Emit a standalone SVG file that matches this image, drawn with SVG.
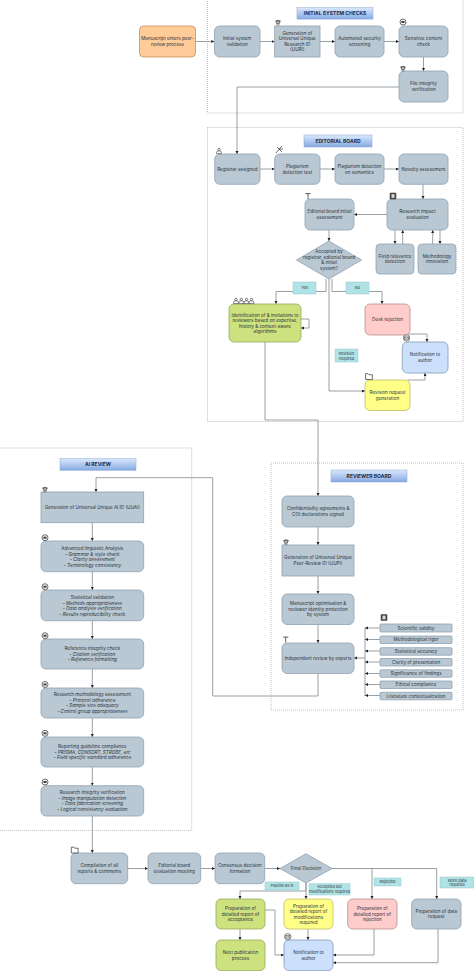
<svg xmlns="http://www.w3.org/2000/svg" width="474" height="971" viewBox="0 0 474 971">
<style>
text{font-family:"Inter","Noto Sans","Liberation Sans",sans-serif;font-size:4.6px;fill:#2b3640;text-anchor:middle}
.i{font-style:italic}
.b{stroke-width:.8}
.g{fill:#bac8d3;stroke:#8fa2b2}
.o{fill:#ffcc99;stroke:#c4905c}
.gr{fill:#cde17f;stroke:#94ab5e}
.p{fill:#ffcccc;stroke:#b98d8d}
.bl{fill:#cce0fb;stroke:#8299b8}
.y{fill:#ffff88;stroke:#bdbd62}
.l{fill:#b0e3e6;stroke:#96c6c9;stroke-width:.5}
.t{fill:url(#tg);stroke:#8aa8d6;stroke-width:.5}
.tt{font-size:5px;font-weight:700;fill:#1d2a44}
.lt{font-size:3.9px}
.dash{fill:none;stroke:#a9adb0;stroke-width:.8;stroke-dasharray:1 1}
.c{fill:none;stroke:#8c959c;stroke-width:.9}
.a{marker-end:url(#ah)}
.ic{fill:none;stroke:#333;stroke-width:.7}
.id{fill:#444;stroke:none}
</style>
<defs>
<linearGradient id="tg" x1="0" y1="0" x2="0" y2="1"><stop offset="0" stop-color="#dae8fc"/><stop offset="1" stop-color="#86a9e2"/></linearGradient>
<marker id="ah" markerUnits="userSpaceOnUse" markerWidth="4" markerHeight="4" refX="3" refY="1.5" orient="auto"><path d="M0 0L3 1.5L0 3z" fill="#222"/></marker>
<symbol id="gear" overflow="visible"><circle r="2.3" fill="#777"/><circle r="1" fill="#ddd"/><path d="M-3 -.9H3M-.9 2V3.5M.9 2V3.5" stroke="#555" stroke-width=".7"/></symbol>
<symbol id="rb" overflow="visible"><circle r="3" fill="#f4f4f4" stroke="#333" stroke-width=".7"/><rect x="-1.6" y="-1" width="3.2" height="2" fill="#444"/></symbol>
<symbol id="pers" overflow="visible"><circle cy="-1.6" r="1.2" fill="#fff" stroke="#333" stroke-width=".6"/><path d="M-2.4 2.6V1.2Q-2.4 -.2 0 -.2Q2.4 -.2 2.4 1.2V2.6z" fill="#fff" stroke="#333" stroke-width=".6"/></symbol>
<symbol id="sq" overflow="visible"><rect x="-3" y="-3" width="6" height="6" rx=".6" fill="#555" stroke="#222" stroke-width=".5"/><rect x="-1.4" y="-1.8" width="2.8" height="3.6" fill="#ddd"/></symbol>
<symbol id="tee" overflow="visible"><path d="M-2.6 -2.4H2.6M0 -2.4V3" stroke="#333" stroke-width=".8" fill="none"/></symbol>
<symbol id="fold" overflow="visible"><path d="M-3.4 -2.8H-.8L0 -1.8H3.4V3H-3.4z" fill="#fff" stroke="#333" stroke-width=".7"/></symbol>
<symbol id="mail" overflow="visible"><circle r="3.2" fill="#fff" stroke="#333" stroke-width=".6"/><path d="M-2 -1.2H2V1.4H-2zM-2 -1.2L0 .4L2 -1.2" fill="#eee" stroke="#333" stroke-width=".5"/></symbol>
</defs>

<g id="frames">
<rect class="dash" x="207.5" y="-3" width="255.5" height="116"/>
<rect class="dash" x="207.5" y="127.5" width="255.5" height="294"/>
<rect class="dash" x="271" y="463" width="192" height="247"/>
<rect class="dash" x="-3" y="448" width="194.7" height="382.5"/>
</g>

<g id="connectors">
<path class="c a" d="M195.7 41.5H214.3"/>
<path class="c a" d="M260 41.5H274.7"/>
<path class="c a" d="M320 41.5H335"/>
<path class="c a" d="M384 41.5H399"/>
<path class="c a" d="M423.5 57V71"/>
<path class="c a" d="M399 87H237V154"/>
<path class="c a" d="M260 169H274.7"/>
<path class="c a" d="M320 169H335"/>
<path class="c a" d="M384 169H399"/>
<path class="c a" d="M423 184.3V199"/>
<path class="c a" d="M387 214.5H354"/>
<path class="c a" d="M395 230V244"/>
<path class="c a" d="M402.7 244V230"/>
<path class="c a" d="M432.7 244V230"/>
<path class="c a" d="M440 230V244"/>
<path class="c a" d="M329 230V241"/>
<path class="c a" d="M326 279V291.5H276V304"/>
<path class="c a" d="M332 279V291.5H382V304"/>
<path class="c a" d="M329 279V391H365"/>
<path class="c a" d="M301 319H309V328H301"/>
<path class="c a" d="M408 334H427V342"/>
<path class="c a" d="M408 380H425V373"/>
<path class="c a" d="M265 342V420H318V496"/>
<path class="c a" d="M318 527V545"/>
<path class="c a" d="M318 576V594"/>
<path class="c a" d="M318 624V643"/>
<path class="c a" d="M318 673V696H212.7V477.7H96V492"/>
<path class="c" d="M365 628V696"/>
<path class="c a" d="M380 628H365"/>
<path class="c a" d="M380 639.5H365"/>
<path class="c a" d="M380 651H365"/>
<path class="c a" d="M380 662H365"/>
<path class="c a" d="M380 673.5H365"/>
<path class="c a" d="M380 684.5H365"/>
<path class="c a" d="M380 695.5H365"/>
<path class="c a" d="M365 658H354"/>
<path class="c a" d="M92.3 522.7V541"/>
<path class="c a" d="M92.3 571.7V590"/>
<path class="c a" d="M92.3 620.7V639"/>
<path class="c a" d="M92.3 669V688"/>
<path class="c a" d="M92.3 718V737"/>
<path class="c a" d="M92.3 767V785.7"/>
<path class="c a" d="M92.3 816V853"/>
<path class="c a" d="M127.7 868.5H148"/>
<path class="c a" d="M200.7 868.5H215"/>
<path class="c a" d="M264.7 868.5H280"/>
<path class="c a" d="M332 868.5H436.7V899"/>
<path class="c a" d="M372 868.5V899"/>
<path class="c a" d="M306 883V899"/>
<path class="c a" d="M306 883V891H240V899"/>
<path class="c a" d="M240 929V940"/>
<path class="c a" d="M265 910H275V955H284"/>
<path class="c a" d="M308 929V940"/>
<path class="c a" d="M374 929V955H333"/>
<path class="c a" d="M438 929V962.7H333"/>
</g>

<g id="section-titles">
<g id="title-initial"><rect class="t" x="297" y="7.7" width="76" height="11.4"/><text class="tt" x="335" y="15.2">INITIAL SYSTEM CHECKS</text></g>
<g id="title-editorial"><rect class="t" x="304" y="135" width="68" height="12"/><text class="tt" x="338" y="142.9">EDITORIAL BOARD</text></g>
<g id="title-reviewer"><rect class="t" x="331" y="470" width="76" height="12"/><text class="tt" x="369" y="477.9">REVIEWER BOARD</text></g>
<g id="title-ai"><rect class="t" x="60" y="458.7" width="76" height="11.6"/><text class="tt" x="98" y="466.4">AI REVIEW</text></g>
</g>

<g id="n-manuscript"><rect class="o b" x="139.5" y="26" width="56" height="31" rx="4"/><text x="167.5" y="40.3">Manuscript enters peer-<tspan x="167.5" dy="5.5">review process</tspan></text></g>
<g id="n-validation"><rect class="g b" x="214.5" y="26" width="45.5" height="31" rx="5"/><text x="237.2" y="40.3">Initial system<tspan x="237.2" dy="5.5">validation</tspan></text></g>
<g id="n-uuri"><rect class="g b" x="274.7" y="26" width="45.3" height="31"/><text x="297.3" y="34.9">Generation of<tspan x="297.3" dy="5.5">Universal Unique</tspan><tspan x="297.3" dy="5.5">Research ID</tspan><tspan x="297.3" dy="5.5">(UURI)</tspan></text><use href="#gear" x="278" y="22"/></g>
<g id="n-security"><rect class="g b" x="335" y="26" width="49" height="31" rx="5"/><text x="359.5" y="40.3">Automated security<tspan x="359.5" dy="5.5">screening</tspan></text></g>
<g id="n-sensitive"><rect class="g b" x="399" y="26" width="49" height="31" rx="5"/><text x="423.5" y="40.3">Sensitive content<tspan x="423.5" dy="5.5">check</tspan></text><use href="#rb" x="403" y="22"/></g>
<g id="n-file"><rect class="g b" x="399" y="71" width="49" height="31" rx="5"/><text x="423.5" y="85.3">File integrity<tspan x="423.5" dy="5.5">verification</tspan></text><use href="#gear" x="403" y="68"/></g>

<g id="n-registrar"><rect class="g b" x="214.7" y="154" width="45.3" height="30.3" rx="5"/><text x="237.3" y="170.8">Registrar assigned</text><use href="#pers" x="219" y="151"/></g>
<g id="n-plag-test"><rect class="g b" x="274.7" y="154" width="45.3" height="30.3" rx="5"/><text x="297.3" y="168">Plagiarism<tspan x="297.3" dy="5.5">detection test</tspan></text><path class="ic" d="M276 153L282 146M277 147L282 152M279 149H283" stroke-width="1"/></g>
<g id="n-plag-sem"><rect class="g b" x="335" y="154" width="49" height="30.3" rx="5"/><text x="359.5" y="168">Plagiarism detection<tspan x="359.5" dy="5.5">on semantics</tspan></text></g>
<g id="n-novelty"><rect class="g b" x="399" y="154" width="49" height="30.3" rx="5"/><text x="423.5" y="170.8">Novelty assessment</text></g>
<g id="n-editorial-initial"><rect class="g b" x="305" y="199" width="49" height="31" rx="5"/><text x="329.5" y="213.3">Editorial board initial<tspan x="329.5" dy="5.5">assessment</tspan></text><use href="#tee" x="308" y="196"/></g>
<g id="n-impact"><rect class="g b" x="387" y="199" width="61" height="31" rx="5"/><text x="417.5" y="213.3">Research impact<tspan x="417.5" dy="5.5">evaluation</tspan></text><use href="#sq" x="393" y="196"/></g>
<g id="n-field"><rect class="g b" x="376" y="244" width="38" height="30" rx="4"/><text x="395" y="257.9">Field relevance<tspan x="395" dy="5.5">detection</tspan></text></g>
<g id="n-method"><rect class="g b" x="418" y="244" width="38" height="30" rx="4"/><text x="437" y="257.9">Methodology<tspan x="437" dy="5.5">innovation</tspan></text></g>
<g id="n-accepted"><path class="g b" d="M329 241L361.5 260L329 279L296.5 260z"/><text x="329" y="253.3">Accepted by<tspan x="329" dy="5.5">registrar, editorial board</tspan><tspan x="329" dy="5.5">&amp; initial</tspan><tspan x="329" dy="5.5">system?</tspan></text></g>
<g id="lb-yes"><rect class="l" x="293" y="282" width="23" height="12"/><text class="lt" x="304.5" y="289.4">Yes</text></g>
<g id="lb-no"><rect class="l" x="346" y="282" width="23" height="12"/><text class="lt" x="357.5" y="289.4">No</text></g>
<g id="n-identification"><rect class="gr b" x="229" y="304" width="72" height="38" rx="5"/><text x="265" y="316.6">Identification of &amp; invitations to<tspan x="265" dy="5.5">reviewers based on expertise,</tspan><tspan x="265" dy="5.5">history &amp; context-aware</tspan><tspan x="265" dy="5.5">algorithms</tspan></text><use href="#pers" x="236" y="301"/><use href="#pers" x="241.3" y="301"/><use href="#pers" x="246.5" y="301"/><use href="#pers" x="251.5" y="301"/></g>
<g id="n-desk"><rect class="p b" x="365" y="304" width="45" height="31" rx="5"/><text x="387.5" y="321.1">Desk rejection</text></g>
<g id="n-notify1"><rect class="bl b" x="402.3" y="342" width="45.7" height="31" rx="5"/><text x="425" y="356.3">Notification to<tspan x="425" dy="5.5">author</tspan></text><use href="#mail" x="406.5" y="338"/></g>
<g id="lb-revision"><rect class="l" x="335" y="349" width="23" height="13"/><text class="lt" x="346.5" y="354.5">Revision<tspan x="346.5" dy="5">required</tspan></text></g>
<g id="n-revision"><rect class="y b" x="365" y="380" width="45" height="30.5" rx="5"/><text x="387.5" y="394">Revision request<tspan x="387.5" dy="5.5">generation</tspan></text><use href="#fold" x="369" y="376.5"/></g>

<g id="n-confidentiality"><rect class="g b" x="282" y="496" width="72" height="31" rx="5"/><text x="318" y="510.3">Confidentiality agreements &amp;<tspan x="318" dy="5.5">COI declarations signed</tspan></text></g>
<g id="n-uupi"><rect class="g b" x="282" y="545" width="72" height="31"/><text x="318" y="559.3">Generation of Universal Unique<tspan x="318" dy="5.5">Peer-Review ID (UUPI)</tspan></text><use href="#gear" x="286" y="541.5"/></g>
<g id="n-optimisation"><rect class="g b" x="282" y="594" width="72" height="30.5" rx="5"/><text x="318" y="605.4">Manuscript optimisation &amp;<tspan x="318" dy="5.5">reviewer identity protection</tspan><tspan x="318" dy="5.5">by system</tspan></text></g>
<g id="n-independent"><rect class="g b" x="282" y="643" width="72" height="30.5" rx="5"/><text x="318" y="659.9">Independent review by experts</text><use href="#tee" x="285.7" y="639.5"/></g>
<g id="n-c1"><rect class="g b" x="380" y="624" width="72" height="8" rx="1"/><text x="416" y="629.6">Scientific validity</text><use href="#sq" x="384" y="617.5"/></g>
<g id="n-c2"><rect class="g b" x="380" y="636" width="72" height="7.5" rx="1"/><text x="416" y="641.4">Methodological rigor</text></g>
<g id="n-c3"><rect class="g b" x="380" y="647.7" width="72" height="7.5" rx="1"/><text x="416" y="653">Statistical accuracy</text></g>
<g id="n-c4"><rect class="g b" x="380" y="658.5" width="72" height="7.5" rx="1"/><text x="416" y="663.8">Clarity of presentation</text></g>
<g id="n-c5"><rect class="g b" x="380" y="669.8" width="72" height="7.5" rx="1"/><text x="416" y="675.1">Significance of findings</text></g>
<g id="n-c6"><rect class="g b" x="380" y="681" width="72" height="7.5" rx="1"/><text x="416" y="686.3">Ethical compliance</text></g>
<g id="n-c7"><rect class="g b" x="380" y="692.3" width="72" height="7.5" rx="1"/><text x="416" y="697.6">Literature contextualization</text></g>

<g id="n-uai"><rect class="g b" x="41" y="492" width="102.7" height="30.7"/><text x="92.3" y="509">Generation of Universal Unique AI ID (UUAI)</text><use href="#gear" x="45" y="489"/></g>
<g id="n-linguistic"><rect class="g b" x="41" y="541" width="102.7" height="30.7" rx="5"/><text x="92.3" y="550.1">Advanced linguistic Analysis<tspan class="i" x="92.3" dy="5.5">- Grammar &amp; style check</tspan><tspan class="i" x="92.3" dy="5.5">- Clarity assessment</tspan><tspan class="i" x="92.3" dy="5.5">- Terminology consistency</tspan></text><use href="#rb" x="45" y="537.7"/></g>
<g id="n-statistical"><rect class="g b" x="41" y="590" width="102.7" height="30.7" rx="5"/><text x="92.3" y="599.1">Statistical validation<tspan class="i" x="92.3" dy="5.5">- Methods appropriateness</tspan><tspan class="i" x="92.3" dy="5.5">- Data analysis verification</tspan><tspan class="i" x="92.3" dy="5.5">- Results reproducibility check</tspan></text><use href="#rb" x="45" y="586.7"/></g>
<g id="n-reference"><rect class="g b" x="41" y="639" width="102.7" height="30" rx="5"/><text x="92.3" y="650.1">Reference integrity check<tspan class="i" x="92.3" dy="5.5">- Citation verification</tspan><tspan class="i" x="92.3" dy="5.5">- Reference formatting</tspan></text><use href="#rb" x="45" y="635.7"/></g>
<g id="n-methodology"><rect class="g b" x="41" y="688" width="102.7" height="30" rx="5"/><text x="92.3" y="696.4">Research methodology assessment<tspan class="i" x="92.3" dy="5.5">- Protocol adherence</tspan><tspan class="i" x="92.3" dy="5.5">- Sample size adequacy</tspan><tspan class="i" x="92.3" dy="5.5">- Control group appropriateness</tspan></text><use href="#rb" x="45" y="684.5"/></g>
<g id="n-reporting"><rect class="g b" x="41" y="737" width="102.7" height="30" rx="5"/><text x="92.3" y="748.1">Reporting guideline compliance<tspan class="i" x="92.3" dy="5.5">- PRISMA, CONSORT, STROBE, etc</tspan><tspan class="i" x="92.3" dy="5.5">- Field specific standard adherence</tspan></text><use href="#rb" x="45" y="733.3"/></g>
<g id="n-integrity"><rect class="g b" x="41" y="785.7" width="102.7" height="30.3" rx="5"/><text x="92.3" y="794.3">Research integrity verification<tspan class="i" x="92.3" dy="5.5">- Image manipulation detection</tspan><tspan class="i" x="92.3" dy="5.5">- Data fabrication screening</tspan><tspan class="i" x="92.3" dy="5.5">- Logical consistency evaluation</tspan></text><use href="#rb" x="45" y="782"/></g>

<g id="n-compilation"><rect class="g b" x="71" y="853" width="56.7" height="30.7" rx="5"/><text x="99.3" y="867.2">Compilation of all<tspan x="99.3" dy="5.5">reports &amp; comments</tspan></text><use href="#fold" x="74.7" y="850"/></g>
<g id="n-meeting"><rect class="g b" x="148" y="853" width="52.7" height="30.7" rx="5"/><text x="174.3" y="867.2">Editorial board<tspan x="174.3" dy="5.5">evaluation meeting</tspan></text></g>
<g id="n-consensus"><rect class="g b" x="215" y="853" width="49.7" height="30.7" rx="5"/><text x="239.8" y="867.2">Consensus decision<tspan x="239.8" dy="5.5">formation</tspan></text></g>
<g id="n-final"><path class="g b" d="M306 853.7L332 868.5L306 883L280 868.5z"/><text x="306" y="870.2">Final Decision</text></g>
<g id="lb-publish"><rect class="l" x="265" y="882" width="34" height="8"/><text class="lt" x="282" y="887.4">Publish as is</text></g>
<g id="lb-accepted"><rect class="l" x="309" y="883.7" width="41" height="11.3"/><text class="lt" x="329.5" y="888.3">Accepted but<tspan x="329.5" dy="4.6">modifications required</tspan></text></g>
<g id="lb-rejected"><rect class="l" x="374" y="878" width="27" height="8"/><text class="lt" x="387.5" y="883.4">Rejected</text></g>
<g id="lb-more"><rect class="l" x="440" y="877" width="34" height="11"/><text class="lt" x="457" y="881.6">More data<tspan x="457" dy="4.6">required</tspan></text></g>
<g id="n-acceptance"><rect class="gr b" x="216" y="899" width="49" height="30" rx="5"/><text x="240.5" y="910.4">Preparation of<tspan x="240.5" dy="5.5">detailed report of</tspan><tspan x="240.5" dy="5.5">acceptance</tspan></text></g>
<g id="n-publication"><rect class="gr b" x="216" y="940" width="49" height="30.6" rx="5"/><text x="240.5" y="954">Next publication<tspan x="240.5" dy="5.5">process</tspan></text></g>
<g id="n-modifications"><rect class="y b" x="284" y="899" width="49" height="30" rx="5"/><text x="308.5" y="907.6">Preparation of<tspan x="308.5" dy="5.5">detailed report of</tspan><tspan x="308.5" dy="5.5">modifications</tspan><tspan x="308.5" dy="5.5">required</tspan></text></g>
<g id="n-rejection"><rect class="p b" x="347.7" y="899" width="49.3" height="30" rx="5"/><text x="372.3" y="910.4">Preparation of<tspan x="372.3" dy="5.5">detailed report of</tspan><tspan x="372.3" dy="5.5">rejection</tspan></text></g>
<g id="n-data"><rect class="g b" x="411.7" y="899" width="49.3" height="30" rx="5"/><text x="436.3" y="912.9">Preparation of data<tspan x="436.3" dy="5.5">request</tspan></text></g>
<g id="n-notify2"><rect class="bl b" x="284" y="940" width="49" height="30.6" rx="5"/><text x="308.5" y="954">Notification to<tspan x="308.5" dy="5.5">author</tspan></text><use href="#mail" x="287.7" y="936.7"/></g>
</svg>
